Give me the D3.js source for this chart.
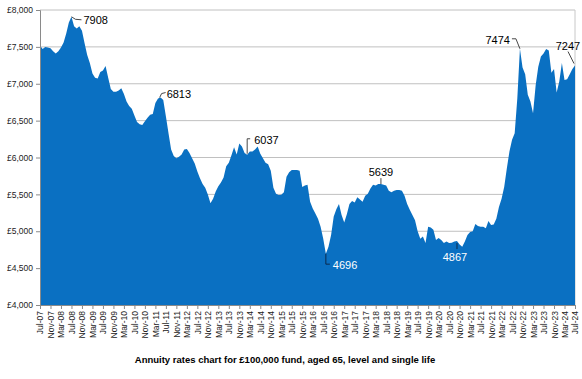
<html>
<script src="https://d3js.org/d3.v7.min.js"></script>
<style>
  body { margin: 0; background: #fff; }
  svg { font-family: "Liberation Sans", Arial, sans-serif; }
</style>
<body>
<svg width="582" height="379"></svg>
<script>
// monthly annuity income, Jul-07 .. Jul-24
const rates = [
  7520, 7470, 7500, 7490, 7480, 7440, 7410, 7440, 7490, 7560,
  7680, 7830, 7908, 7780, 7750, 7780, 7720, 7550, 7390, 7280,
  7140, 7080, 7070, 7160, 7180, 7240, 7080, 6930, 6890, 6890,
  6910, 6940, 6860, 6760, 6700, 6660, 6570, 6480, 6450, 6440,
  6490, 6540, 6580, 6590, 6740, 6800, 6813, 6780, 6560, 6330,
  6110, 6020, 5990, 6010, 6040, 6110, 6115, 6060, 5990, 5920,
  5810, 5720, 5640, 5590, 5500, 5380, 5440, 5540, 5610, 5660,
  5730, 5880, 5930, 6030, 6140, 6040, 6190, 6150, 6060, 6037,
  6080, 6080, 6110, 6150, 6050, 5990, 5930, 5910, 5820, 5590,
  5510, 5490, 5495, 5530, 5740, 5800, 5830, 5830, 5830, 5820,
  5600, 5620, 5630, 5400, 5310, 5240, 5170, 5060, 4900, 4696,
  4790, 4950, 5200, 5300, 5370, 5220, 5120, 5230, 5370, 5410,
  5390, 5460, 5430, 5400, 5480, 5510, 5580, 5630, 5620, 5640,
  5639, 5630, 5620, 5550, 5530, 5550, 5560, 5560, 5550, 5480,
  5370, 5290, 5220, 5150, 5000, 4900, 4930, 4840, 5060, 5050,
  5020, 4880, 4910, 4880, 4840, 4860, 4840, 4845, 4860, 4867,
  4820, 4790, 4860, 4950, 4990, 5000, 5100, 5070, 5060, 5060,
  5040, 5140, 5085, 5090, 5170, 5330, 5440, 5600, 5850, 6080,
  6240, 6330, 6800, 7474, 7220, 7130, 6850, 6760, 6600, 6980,
  7230, 7370, 7410, 7470, 7450, 7150, 7200, 6880, 7030, 7280,
  7050, 7060, 7130, 7200, 7247
];

const fmtMonth = d3.timeFormat("%b-%y");
const months = d3.timeMonths(new Date(2007, 6, 1), new Date(2024, 7, 1)).map(fmtMonth);

const tickLabels = [
  "Jul-07","Nov-07","Mar-08","Jul-08","Nov-08","Mar-09","Jul-09","Nov-09","Mar-10",
  "Jul-10","Nov-10","Mar-11","Jul-11","Nov-11","Mar-12","Jul-12","Nov-12","Mar-13",
  "Jul-13","Nov-13","Mar-14","Jul-14","Nov-14","Mar-15","Jul-15","Nov-15","Mar-16",
  "Jul-16","Nov-16","Mar-17","Jul-17","Nov-17","Mar-18","Jul-18","Nov-18","Mar-19",
  "Jul-19","Nov-19","Mar-20","Jul-20","Nov-20","Mar-21","Jul-21","Nov-21","Mar-22",
  "Jul-22","Nov-22","Mar-23","Jul-23","Nov-23","Mar-24","Jul-24"
];
const yTicks = [4000, 4500, 5000, 5500, 6000, 6500, 7000, 7500, 8000];

// labelled points (month label, value)
const labelMonths = ["Jul-08", "May-11", "Feb-14", "Aug-16", "May-18", "Oct-20", "Oct-22", "Jul-24"];
const labelValues = [7908, 6813, 6037, 4696, 5639, 4867, 7474, 7247];

const plotL = 40, plotR = 575, plotT = 10, plotB = 305;
const svg = d3.select("svg");

const x = d3.scalePoint().domain(months).range([plotL, plotR]);
const y = d3.scaleLinear().domain([4000, 8000]).range([plotB, plotT]);

// gridlines
svg.append("g").selectAll("line").data(yTicks).enter().append("line")
  .attr("x1", plotL).attr("x2", plotR)
  .attr("y1", d => y(d)).attr("y2", d => y(d))
  .attr("stroke", "#c0c0c0").attr("stroke-width", 1);
svg.append("line").attr("x1", plotR).attr("x2", plotR).attr("y1", plotT).attr("y2", plotB)
  .attr("stroke", "#c8c8c8");

// area
const area = d3.area()
  .x((d, i) => x(months[i]))
  .y0(y(4000))
  .y1(d => y(d));
svg.append("path").datum(rates).attr("d", area).attr("fill", "#0a70c2");

// axes
const yAxis = svg.append("g").attr("transform", "translate(" + plotL + ",0)")
  .call(d3.axisLeft(y).tickValues(yTicks).tickSize(4).tickFormat(d => "£" + d3.format(",")(d)));
yAxis.selectAll("text").attr("font-size", 8.5).attr("fill", "#222").attr("font-family", "Liberation Sans, Arial");

const xAxis = svg.append("g").attr("transform", "translate(0," + plotB + ")")
  .call(d3.axisBottom(x).tickValues(tickLabels).tickSize(4));
xAxis.selectAll("text")
  .attr("transform", "rotate(-90)")
  .attr("text-anchor", "end")
  .attr("x", -6).attr("y", 0).attr("dy", "0.35em")
  .attr("font-size", 8.5).attr("fill", "#222").attr("font-family", "Liberation Sans, Arial");
svg.selectAll(".domain, .tick line").attr("stroke", "#8a8a8a");

// point labels: leader offsets and text offsets relative to the point
const labelStyle = [
  { lead: [[0, 0], [4, 2.5], [10, 3]], tx: 12, ty: 3.5, anchor: "start", col: "#000" },
  { lead: [[-1, 0], [1, -4], [5, -5]], tx: 6, ty: -4, anchor: "start", col: "#000" },
  { lead: [[0, -1], [0, -16], [3, -16]], tx: 7, ty: -15, anchor: "start", col: "#000" },
  { lead: [[0, 0], [0, 10.5], [4, 10.5]], tx: 7, ty: 11.5, anchor: "start", col: "#fff", leadCol: "#0b2340" },
  { lead: [[0, 0], [0, -6]], tx: 0, ty: -12, anchor: "middle", col: "#000" },
  { lead: [[0, 2], [0, 8]], tx: -2, ty: 16, anchor: "middle", col: "#fff", leadCol: "#0b2340" },
  { lead: [[-8, -10], [-4, -10], [0, 0]], tx: -10, ty: -9, anchor: "end", col: "#000" },
  { lead: [[-7, -14], [-1, -2]], tx: -7, ty: -20, anchor: "middle", col: "#000" }
];
const line = d3.line().curve(d3.curveLinear);
labelMonths.forEach((m, k) => {
  const px = x(m), py = y(labelValues[k]), s = labelStyle[k];
  svg.append("path")
    .attr("d", line(s.lead.map(p => [px + p[0], py + p[1]])))
    .attr("fill", "none").attr("stroke", s.leadCol || "#333").attr("stroke-width", 0.9);
  svg.append("text")
    .attr("x", px + s.tx).attr("y", py + s.ty)
    .attr("dominant-baseline", "central")
    .attr("text-anchor", s.anchor)
    .attr("font-size", 11).attr("fill", s.col)
    .text(labelValues[k]);
});

// title
svg.append("text")
  .attr("x", 285).attr("y", 363)
  .attr("text-anchor", "middle")
  .attr("font-size", 9.5).attr("font-weight", "bold").attr("fill", "#000")
  .text("Annuity rates chart for £100,000 fund, aged 65, level and single life");
</script>
</body>
</html>
